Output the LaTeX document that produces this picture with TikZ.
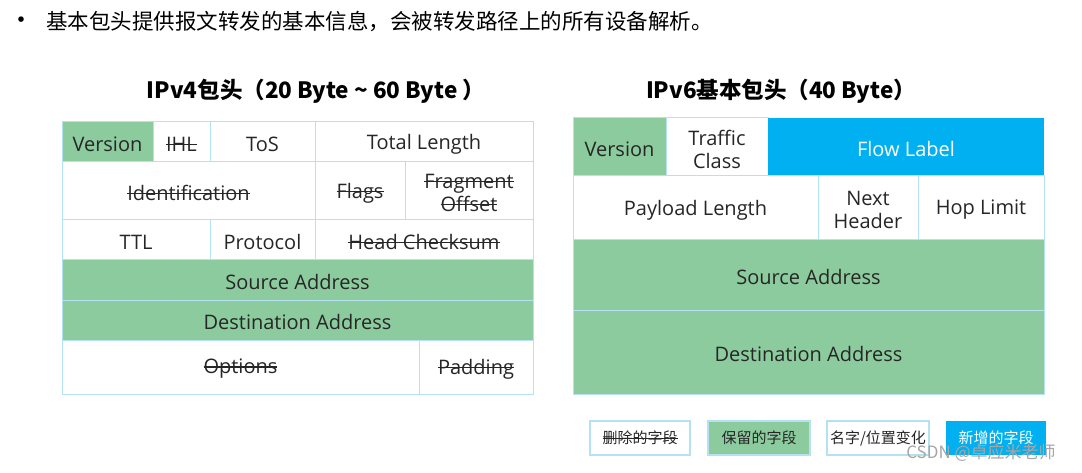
\documentclass[tikz,border=0pt]{standalone}
\usepackage{fontspec}
\setmainfont{Open Sans}
\newfontfamily\cjk{Noto Sans CJK SC}
\definecolor{gr}{HTML}{8CCB9E}
\definecolor{bl}{HTML}{00B0F0}
\definecolor{bd}{HTML}{B4E2F2}
\newcommand{\strk}[1]{\setbox0\hbox{#1}\rlap{\rule[0.32em]{\wd0}{1.1pt}}\box0}
\tikzset{cell/.style={draw=bd,line width=1pt},
 txt/.style={font=\fontsize{20}{23}\selectfont,align=center,text=black!85,yshift=-2pt},
 leg/.style={draw=bd,line width=1.2pt},
 legt/.style={font=\cjk\fontsize{15}{17}\selectfont,text=black!85}}
\newcommand{\cellbox}[6]{% x1 y1 x2 y2 fill text
 \path[cell,fill=#5] (#1,#2) rectangle (#3,#4);
 \node[txt] (n#1x#2) at ({(#1+#3)/2},{(#2+#4)/2}) {#6};}
\begin{document}
\begin{tikzpicture}[x=1pt,y=-1pt]
\useasboundingbox[fill=white] (0,0) rectangle (1082,473);
\node[anchor=west,font=\cjk\fontsize{21.5}{24}\selectfont,inner sep=0] (bul) at (8,22) {{\fontsize{26}{26}\selectfont •}\hspace{12pt}基本包头提供报文转发的基本信息，会被转发路径上的所有设备解析。};
\node[font=\cjk\bfseries\fontsize{22.5}{26}\selectfont] (t4) at (316,91) {IPv4包头（20 Byte \textasciitilde{} 60 Byte ）};
\node[font=\cjk\bfseries\fontsize{22.5}{26}\selectfont] (t6) at (781,91) {IPv6基本包头（40 Byte）};
% IPv4
\cellbox{62}{122}{153}{162}{gr}{Version}
\cellbox{153}{122}{210}{162}{white}{\strk{IHL}}
\cellbox{210}{122}{315}{162}{white}{ToS}
\cellbox{315}{122}{533}{162}{white}{Total Length}
\cellbox{62}{162}{315}{220}{white}{\strk{Identification}}
\cellbox{315}{162}{405}{220}{white}{\strk{Flags}}
\cellbox{405}{162}{533}{220}{white}{\strk{Fragment}\\\strk{Offset}}
\cellbox{62}{220}{210}{260}{white}{TTL}
\cellbox{210}{220}{315}{260}{white}{Protocol}
\cellbox{315}{220}{533}{260}{white}{\strk{Head Checksum}}
\cellbox{62}{260}{533}{300}{gr}{Source Address}
\cellbox{62}{300}{533}{340}{gr}{Destination Address}
\cellbox{62}{340}{419}{394}{white}{\strk{Options}}
\cellbox{419}{340}{533}{394}{white}{\strk{Padding}}
% IPv6
\cellbox{573}{118}{666}{176}{gr}{Version}
\cellbox{666}{118}{768}{176}{white}{Traffic\\Class}
\path[fill=bl] (768,118) rectangle (1044,176);
\node[txt,text=white] (fl) at (906,147) {Flow Label};
\cellbox{573}{176}{818}{240}{white}{Payload Length}
\cellbox{818}{176}{918}{240}{white}{Next\\Header}
\cellbox{918}{176}{1044}{240}{white}{Hop Limit}
\cellbox{573}{240}{1044}{310}{gr}{Source Address}
\cellbox{573}{310}{1044}{394}{gr}{Destination Address}
% legend
\path[leg] (590,421) rectangle (690,455);
\node[legt] (l1) at (640,438) {\strk{删除的字段}};
\path[leg,fill=gr] (708,421) rectangle (810,455);
\node[legt] (l2) at (759,438) {保留的字段};
\path[leg] (827,421) rectangle (929,455);
\node[legt] (l3) at (878,438) {名字/位置变化};
\path[fill=bl] (946,421) rectangle (1046,455);
\node[legt,text=white] (l4) at (996,438) {新增的字段};
\node[font=\cjk\fontsize{17}{19}\selectfont,text=black!35] (wm) at (981,453) {CSDN @卓应米老师};
\end{tikzpicture}
\end{document}
